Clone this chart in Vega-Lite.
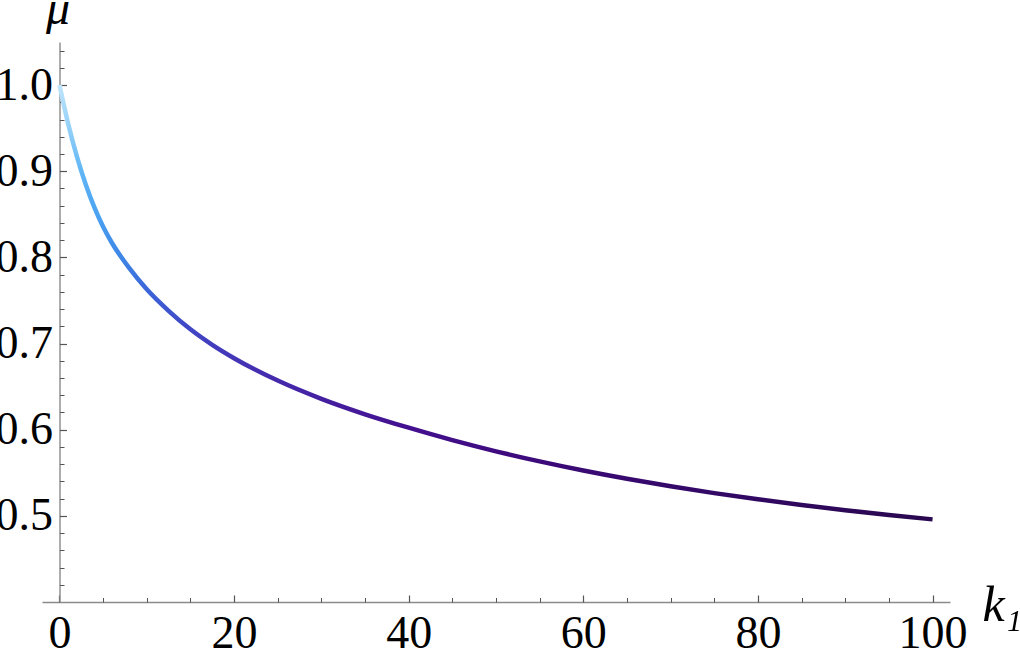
{
  "$schema": "https://vega.github.io/schema/vega-lite/v6.json",
  "width": 908,
  "height": 560,
  "autosize": {"type": "none"},
  "padding": {"left": 42, "top": 42, "right": 70, "bottom": 46},
  "background": "white",
  "data": {
    "values": [
      {"k": 0, "mu": 1.0},
      {"k": 1, "mu": 0.955},
      {"k": 2, "mu": 0.917},
      {"k": 3, "mu": 0.885},
      {"k": 4, "mu": 0.858},
      {"k": 5, "mu": 0.8355},
      {"k": 6, "mu": 0.817},
      {"k": 8, "mu": 0.7875},
      {"k": 10, "mu": 0.763},
      {"k": 12.5, "mu": 0.738},
      {"k": 15, "mu": 0.7165},
      {"k": 17.5, "mu": 0.6985},
      {"k": 20, "mu": 0.683},
      {"k": 25, "mu": 0.657},
      {"k": 30, "mu": 0.6358},
      {"k": 35, "mu": 0.6179},
      {"k": 40, "mu": 0.6023},
      {"k": 45, "mu": 0.5879},
      {"k": 50, "mu": 0.5749},
      {"k": 55, "mu": 0.5632},
      {"k": 60, "mu": 0.5526},
      {"k": 65, "mu": 0.543},
      {"k": 70, "mu": 0.5343},
      {"k": 75, "mu": 0.5264},
      {"k": 80, "mu": 0.5192},
      {"k": 85, "mu": 0.5127},
      {"k": 90, "mu": 0.5066},
      {"k": 95, "mu": 0.501},
      {"k": 100, "mu": 0.4959}
    ]
  },
  "resolve": {"axis": {"x": "independent", "y": "independent"}},
  "layer": [
    {
      "mark": {
        "type": "line",
        "interpolate": "monotone",
        "strokeWidth": 4.5,
        "clip": false,
        "color": {
          "gradient": "linear",
          "x1": 0, "y1": 0, "x2": 0, "y2": 1,
          "stops": [
            {"offset": 0, "color": "#bfe5fb"},
            {"offset": 0.1, "color": "#93d0f8"},
            {"offset": 0.2, "color": "#5fb5f5"},
            {"offset": 0.3, "color": "#4aa2f1"},
            {"offset": 0.4, "color": "#3d84e6"},
            {"offset": 0.476, "color": "#3c64d8"},
            {"offset": 0.555, "color": "#4048c6"},
            {"offset": 0.634, "color": "#4434b6"},
            {"offset": 0.714, "color": "#4522a4"},
            {"offset": 0.793, "color": "#430f8e"},
            {"offset": 0.872, "color": "#3c0a78"},
            {"offset": 0.952, "color": "#310862"},
            {"offset": 1, "color": "#2a0850"}
          ]
        }
      },
      "encoding": {
        "x": {
          "field": "k",
          "type": "quantitative",
          "scale": {"domain": [-2, 102], "nice": false, "zero": false},
          "axis": {
            "orient": "bottom",
            "values": [0, 20, 40, 60, 80, 100],
            "ticks": false,
            "grid": false,
            "domainColor": "#8a8a8a",
            "domainWidth": 1.4,
            "labelFont": "Liberation Serif",
            "labelFontSize": 46,
            "labelColor": "black",
            "labelPadding": 9,
            "labelFlush": false,
            "labelOverlap": false,
            "title": "k₁",
            "titleFont": "Liberation Serif",
            "titleFontStyle": "italic",
            "titleFontWeight": "normal",
            "titleFontSize": 50,
            "titleColor": "black",
            "titleAlign": "left",
            "titleBaseline": "alphabetic",
            "titleX": 940,
            "titleY": 18
          }
        },
        "y": {
          "field": "mu",
          "type": "quantitative",
          "scale": {"domain": [0.4, 1.05], "nice": false, "zero": false},
          "axis": {
            "orient": "left",
            "offset": -17.5,
            "values": [0.5, 0.6, 0.7, 0.8, 0.9, 1.0],
            "format": ".1f",
            "ticks": false,
            "grid": false,
            "domainColor": "#8a8a8a",
            "domainWidth": 1.4,
            "labelFont": "Liberation Serif",
            "labelFontSize": 46,
            "labelColor": "black",
            "labelPadding": 7,
            "labelFlush": false,
            "labelOverlap": false,
            "title": "μ",
            "titleFont": "Liberation Serif",
            "titleFontStyle": "italic",
            "titleFontWeight": "normal",
            "titleFontSize": 48,
            "titleColor": "black",
            "titleAngle": 0,
            "titleAlign": "center",
            "titleBaseline": "alphabetic",
            "titleX": -2,
            "titleY": -19
          }
        }
      }
    },
    {
      "mark": {"type": "line", "strokeOpacity": 0},
      "encoding": {
        "x": {
          "field": "k",
          "type": "quantitative",
          "axis": {
            "orient": "bottom",
            "values": [0, 20, 40, 60, 80, 100],
            "labels": false,
            "domain": false,
            "grid": false,
            "tickSize": -7,
            "tickColor": "#555555",
            "tickWidth": 1.2,
            "title": null
          }
        },
        "y": {
          "field": "mu",
          "type": "quantitative",
          "axis": {
            "orient": "left",
            "offset": -17.5,
            "values": [0.5, 0.6, 0.7, 0.8, 0.9, 1.0],
            "labels": false,
            "domain": false,
            "grid": false,
            "tickSize": -7,
            "tickColor": "#555555",
            "tickWidth": 1.2,
            "title": null
          }
        }
      }
    },
    {
      "mark": {"type": "line", "strokeOpacity": 0},
      "encoding": {
        "x": {
          "field": "k",
          "type": "quantitative",
          "axis": {
            "orient": "bottom",
            "values": [5, 10, 15, 25, 30, 35, 45, 50, 55, 65, 70, 75, 85, 90, 95],
            "labels": false,
            "domain": false,
            "grid": false,
            "tickSize": -4.5,
            "tickColor": "#555555",
            "tickWidth": 1,
            "title": null
          }
        },
        "y": {
          "field": "mu",
          "type": "quantitative",
          "axis": {
            "orient": "left",
            "offset": -17.5,
            "values": [0.42, 0.44, 0.46, 0.48, 0.52, 0.54, 0.56, 0.58, 0.62, 0.64, 0.66, 0.68, 0.72, 0.74, 0.76, 0.78, 0.82, 0.84, 0.86, 0.88, 0.92, 0.94, 0.96, 0.98, 1.02, 1.04],
            "labels": false,
            "domain": false,
            "grid": false,
            "tickSize": -4.5,
            "tickColor": "#555555",
            "tickWidth": 1,
            "title": null
          }
        }
      }
    }
  ],
  "config": {"view": {"stroke": null}}
}
